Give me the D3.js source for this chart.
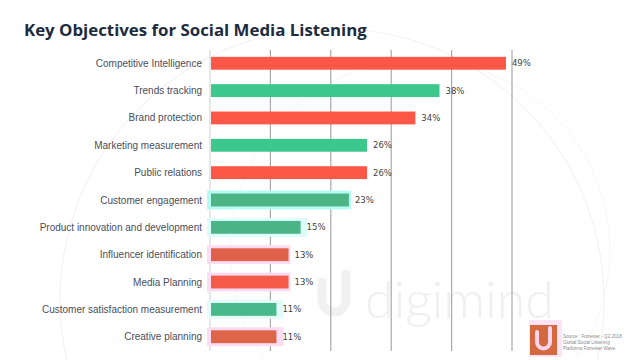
<!DOCTYPE html>
<html><head><meta charset="utf-8">
<script src="https://cdn.jsdelivr.net/npm/d3@7"></script>
<style>
html,body{margin:0;padding:0;background:#fff;}
svg{display:block;}
</style></head>
<body>
<svg id="chart" width="640" height="360"></svg>
<script>
const title = "Key Objectives for Social Media Listening";
const categories = ["Competitive Intelligence","Trends tracking","Brand protection","Marketing measurement","Public relations","Customer engagement","Product innovation and development","Influencer identification","Media Planning","Customer satisfaction measurement","Creative planning"];
const values = [49,38,34,26,26,23,15,13,13,11,11];
const groups = ["red","green","red","green","red","green","green","red","red","green","red"];
const ticks = [0,10,20,30,40,50];
const sourceLines = ["Source : Forrester  -  Q2 2018","Global Social Listening","Platforms Forrester Wave."];

const svg = d3.select("#chart");
const colors = {red:"#fd5748", green:"#3cc88c"};

// watermark circles
const wm = svg.append("g");
wm.append("circle").attr("cx",332).attr("cy",300).attr("r",272).attr("fill","none").attr("stroke","#f3f3f3").attr("stroke-width",1.2);
wm.append("circle").attr("cx",420).attr("cy",250).attr("r",190).attr("fill","none").attr("stroke","#f6f6f6").attr("stroke-width",1);
wm.append("text").attr("x",365).attr("y",318).attr("font-family","Lato, sans-serif").attr("font-weight",300)
  .attr("font-size",52).attr("fill","#efefef").text("digimind");
wm.append("path").attr("d","M322,282 v18 a12,12 0 0 0 24,0 v-26").attr("fill","none").attr("stroke","#f1f1f1").attr("stroke-width",9).attr("stroke-linecap","round");

const x = d3.scaleLinear().domain([0,50]).range([210,512]);
const y = d3.scaleBand().domain(categories).range([50,350]).paddingInner(0.53).paddingOuter(0.25);

// title
const t = svg.append("text").attr("x",24).attr("y",36).attr("font-family","'Open Sans', sans-serif")
  .attr("font-weight",700).attr("font-size",17).attr("fill","#1d2b3f").text(title);
const tw = t.node().getComputedTextLength();
t.attr("font-size", 17*343/tw);

// grid
svg.append("g").selectAll("line").data(ticks).join("line")
  .attr("x1",d=>x(d)).attr("x2",d=>x(d)).attr("y1",50).attr("y2",351)
  .attr("stroke",d=>d===0?"#d8d8d8":"#a8a8a8").attr("stroke-width",1.2);

// halos (artifacts around some bars)
const halos = {5:"#b5fbf1",6:"#dcfdfa",7:"#fbdcf3",8:"#fbdcf3",9:"#e3fcf9",10:"#fbdcf3"};
svg.append("g").selectAll("rect").data(categories.map((c,i)=>i).filter(i=>halos[i])).join("rect")
  .attr("x",x(0)-3).attr("y",i=>y(categories[i])-3)
  .attr("width",i=>x(values[i])-x(0)+(i===6||i===9||i===10?10:5)).attr("height",y.bandwidth()+6)
  .attr("fill",i=>halos[i]);

// bars
const tint = {5:"#4db585",6:"#4ab486",7:"#e0614a",8:"#f45a48",9:"#47b98a",10:"#dd6548"};
svg.append("g").selectAll("rect").data(categories).join("rect")
  .attr("x",x(0)+1).attr("y",d=>y(d)).attr("width",(d,i)=>x(values[i])-x(0)-1).attr("height",y.bandwidth())
  .attr("fill",(d,i)=>tint[i]||colors[groups[i]]);

// category labels
svg.append("g").selectAll("text").data(categories).join("text")
  .attr("x",202).attr("y",d=>y(d)+y.bandwidth()/2).attr("dy","0.35em").attr("text-anchor","end")
  .attr("font-family","'Liberation Sans', Arial, sans-serif").attr("font-size",10).attr("fill","#4a4e5a")
  .text(d=>d);

// value labels
svg.append("g").selectAll("text").data(categories).join("text")
  .attr("x",(d,i)=>x(values[i])+6).attr("y",d=>y(d)+y.bandwidth()/2).attr("dy","0.35em")
  .attr("font-family","'DejaVu Sans', sans-serif").attr("font-size",8.5).attr("fill","#3f3f3f")
  .text((d,i)=>values[i]+"%");

// logo
svg.append("rect").attr("x",529).attr("y",320).attr("width",33).attr("height",37).attr("fill","#fde3f3");
svg.append("rect").attr("x",530).attr("y",325).attr("width",27).attr("height",30).attr("fill","#d4693f");
svg.append("path").attr("d","M537,332 v10 a6.5,6.5 0 0 0 13,0 v-14").attr("fill","none").attr("stroke","#fbd4ef").attr("stroke-width",4).attr("stroke-linecap","round");
svg.append("g").selectAll("text").data(sourceLines).join("text")
  .attr("x",563).attr("y",(d,i)=>338+i*6).attr("font-family","'Liberation Sans', Arial, sans-serif")
  .attr("font-size",4.6).attr("fill","#8a8a8a").text(d=>d);
</script>
</body></html>
